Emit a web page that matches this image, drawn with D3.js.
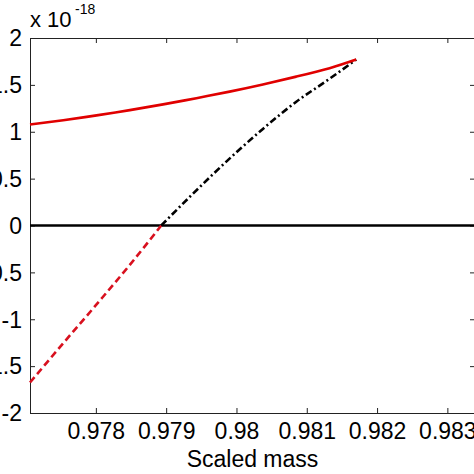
<!DOCTYPE html>
<html>
<head>
<meta charset="utf-8">
<script src="https://cdn.jsdelivr.net/npm/d3@7"></script>
<style>
  html, body { margin: 0; padding: 0; background: #fff; }
  svg { display: block; }
  text { font-family: "Liberation Sans", Arial, sans-serif; fill: #000; }
</style>
</head>
<body>
<svg id="chart" width="474" height="474"></svg>
<script>
// ---- data ----
const xTicks = [0.978, 0.979, 0.980, 0.981, 0.982, 0.983];
const xTickLabels = ["0.978", "0.979", "0.98", "0.981", "0.982", "0.983"];
const yTicks = [-2, -1.5, -1, -0.5, 0, 0.5, 1, 1.5, 2];
const yTickLabels = ["-2", "-1.5", "-1", "-0.5", "0", "0.5", "1", "1.5", "2"];
const xDomain = [0.977063, 0.983393];
const yDomain = [-2, 2];

// red solid branch
const redSolidMass = [0.977063, 0.977536, 0.978010, 0.978483, 0.978956, 0.979430, 0.979903, 0.980376, 0.980851, 0.981324, 0.981703];
const redSolidVal  = [1.077, 1.123, 1.175, 1.231, 1.292, 1.358, 1.428, 1.504, 1.588, 1.678, 1.770];
// red dashed branch
const redDashMass = [0.977063, 0.977531, 0.978000, 0.978483, 0.978930];
const redDashVal  = [-1.675, -1.26, -0.85, -0.42, 0];
// black dash-dot branch
const blackDDMass = [0.978930, 0.979382, 0.979998, 0.980376, 0.980851, 0.981324, 0.981703];
const blackDDVal  = [0, 0.34, 0.78, 1.03, 1.32, 1.565, 1.770];
// zero line
const zeroMass = [0.977063, 0.983393];
const zeroVal = [0, 0];

const xLabel = "Scaled mass";

// ---- layout ----
(function () {
const svg = d3.select("#chart");
const L = 30, R = 475, T = 38, B = 413;
const x = d3.scaleLinear().domain(xDomain).range([L, R]);
const y = d3.scaleLinear().domain(yDomain).range([B, T]);

const fs = 23;

const axisColor = "#222";
function styleAxis(g) {
  g.select(".domain").attr("stroke", axisColor).attr("stroke-width", 1);
  g.selectAll(".tick line").attr("stroke", axisColor).attr("stroke-width", 1);
}

const gBottom = svg.append("g").attr("transform", `translate(0,${B})`)
  .call(d3.axisBottom(x).tickValues(xTicks).tickSizeInner(-5).tickSizeOuter(0)
        .tickFormat((d, i) => xTickLabels[i]));
styleAxis(gBottom);
gBottom.selectAll(".tick text").attr("y", 26).attr("dy", null)
  .attr("font-size", fs).style("font-family", "Liberation Sans, Arial, sans-serif");

const gTop = svg.append("g").attr("transform", `translate(0,${T})`)
  .call(d3.axisTop(x).tickValues(xTicks).tickSizeInner(-5).tickSizeOuter(0).tickFormat(""));
styleAxis(gTop);

const gLeft = svg.append("g").attr("transform", `translate(${L},0)`)
  .call(d3.axisLeft(y).tickValues(yTicks).tickSizeInner(-5).tickSizeOuter(0)
        .tickFormat((d, i) => yTickLabels[i]));
styleAxis(gLeft);
gLeft.selectAll(".tick text").attr("x", -8).attr("dy", "0.34em")
  .attr("font-size", fs).style("font-family", "Liberation Sans, Arial, sans-serif");

const gRight = svg.append("g").attr("transform", `translate(${R},0)`)
  .call(d3.axisRight(y).tickValues(yTicks).tickSizeInner(-5).tickSizeOuter(0).tickFormat(""));
styleAxis(gRight);

const line = d3.line().x(d => x(d[0])).y(d => y(d[1])).curve(d3.curveMonotoneX);
const smooth = d3.line().x(d => x(d[0])).y(d => y(d[1])).curve(d3.curveNatural);
const zip = (a, b) => a.map((v, i) => [v, b[i]]);

svg.append("path").datum(zip(zeroMass, zeroVal)).attr("d", line)
  .attr("fill", "none").attr("stroke", "#000").attr("stroke-width", 2.6);

svg.append("path").datum(zip(redDashMass, redDashVal)).attr("d", line)
  .attr("fill", "none").attr("stroke", "#d8101e").attr("stroke-width", 2.6)
  .attr("stroke-dasharray", "7,4");

svg.append("path").datum(zip(blackDDMass, blackDDVal)).attr("d", line)
  .attr("fill", "none").attr("stroke", "#000").attr("stroke-width", 2.6)
  .attr("stroke-dasharray", "7,3,2,3");

svg.append("path").datum(zip(redSolidMass, redSolidVal)).attr("d", smooth)
  .attr("fill", "none").attr("stroke", "#e00000").attr("stroke-width", 2.6);

svg.append("text").attr("x", 30).attr("y", 27).attr("font-size", 22).text("x 10");
svg.append("text").attr("x", 75).attr("y", 14).attr("font-size", 14).text("-18");

svg.append("text").attr("x", (L + R) / 2).attr("y", 467).attr("text-anchor", "middle")
  .attr("font-size", fs).text(xLabel);
})();
</script>
</body>
</html>
